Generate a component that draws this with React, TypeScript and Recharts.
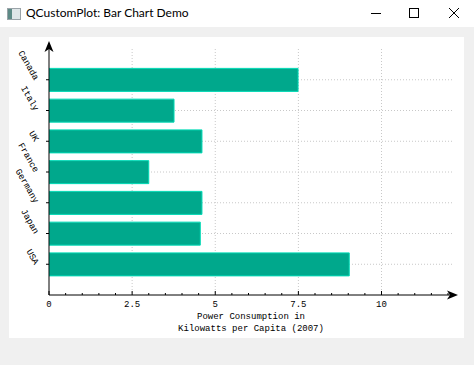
import { BarChart, Bar, XAxis, YAxis, CartesianGrid, ReferenceLine } from 'recharts'

// countries from bottom (1) to top (7)
const countries = ['USA', 'Japan', 'Germany', 'France', 'UK', 'Italy', 'Canada']
const positions = [1, 2, 3, 4, 5, 6, 7]
const consumption = [9.03, 4.55, 4.6, 3.0, 4.6, 3.76, 7.49]
const majorTicks = [0, 2.5, 5, 7.5, 10]
const minorTicks = [0, 0.5, 1, 1.5, 2, 2.5, 3, 3.5, 4, 4.5, 5, 5.5, 6, 6.5, 7, 7.5, 8, 8.5, 9, 9.5, 10, 10.5, 11, 11.5, 12]

const data = positions.map((pos, i) => ({ pos, country: countries[i], value: consumption[i] }))

const FONT = '"Liberation Mono", monospace'
const BAR_FILL = '#00a88c'
const BAR_PEN = '#00dab6'

function XTick({ x, y, payload }: any) {
  const v = payload.value
  const major = majorTicks.includes(v)
  return (
    <g>
      <line x1={x} y1={y} x2={x} y2={y - (major ? 4 : 2)} stroke="#000" />
      {major && (
        <text x={x} y={y + 12} textAnchor="middle" fontSize={9} fontFamily={FONT} fill="#000">
          {v}
        </text>
      )}
    </g>
  )
}

function YTick({ x, y, payload }: any) {
  const idx = positions.indexOf(payload.value)
  const name = idx >= 0 ? countries[idx] : ''
  const ax = x - 13
  return (
    <g>
      <line x1={x - 3} y1={y} x2={x} y2={y} stroke="#000" />
      <text
        x={ax}
        y={y}
        textAnchor="end"
        dominantBaseline="central"
        transform={`rotate(60 ${ax} ${y})`}
        fontSize={9}
        fontFamily={FONT}
        fill="#000"
      >
        {name}
      </text>
    </g>
  )
}

function ArrowAxis(props: any) {
  const { x1, y1, x2, y2 } = props
  const dx = x2 - x1
  const dy = y2 - y1
  const len = Math.hypot(dx, dy) || 1
  const ux = dx / len
  const uy = dy / len
  const px = -uy
  const py = ux
  const L = 11
  const W = 4.5
  const notch = 3
  const bx = x2 - ux * L
  const by = y2 - uy * L
  const nx = x2 - ux * (L - notch)
  const ny = y2 - uy * (L - notch)
  const pts = [
    [x2, y2],
    [bx + px * W, by + py * W],
    [nx, ny],
    [bx - px * W, by - py * W],
  ]
    .map((p) => p.join(','))
    .join(' ')
  return (
    <g>
      <line x1={x1} y1={y1} x2={nx} y2={ny} stroke="#000" strokeWidth={1} />
      <polygon points={pts} fill="#000" stroke="none" />
    </g>
  )
}

function AxisTitle({ viewBox }: any) {
  if (!viewBox) return null
  const cx = viewBox.x + viewBox.width / 2
  const y = viewBox.y + 24
  return (
    <text x={cx} y={y} textAnchor="middle" fontSize={9} fontFamily={FONT} fill="#000">
      <tspan x={cx}>Power Consumption in</tspan>
      <tspan x={cx} dy={12}>Kilowatts per Capita (2007)</tspan>
    </text>
  )
}

function TitleBar() {
  return (
    <div style={{ position: 'absolute', left: 0, top: 0, width: 474, height: 27, background: '#fff' }}>
      <div
        style={{
          position: 'absolute',
          left: 7,
          top: 8,
          width: 12,
          height: 10,
          border: '1px solid #9aa3a8',
          background: 'linear-gradient(90deg, #5d8a86 0 35%, #dfe6e8 35% 100%)',
        }}
      />
      <div
        style={{
          position: 'absolute',
          left: 26,
          top: 5,
          fontFamily: 'Lato, sans-serif',
          fontSize: 12,
          lineHeight: '16px',
          color: '#000',
        }}
      >
        QCustomPlot: Bar Chart Demo
      </div>
      <svg style={{ position: 'absolute', left: 0, top: 0 }} width={474} height={27}>
        <line x1={371} y1={13.5} x2={381} y2={13.5} stroke="#000" />
        <rect x={409.5} y={8.5} width={9} height={9} fill="none" stroke="#000" />
        <line x1={449} y1={8} x2={459} y2={18} stroke="#000" />
        <line x1={459} y1={8} x2={449} y2={18} stroke="#000" />
      </svg>
    </div>
  )
}

export default function App() {
  return (
    <div
      style={{
        position: 'fixed',
        left: 0,
        top: 0,
        width: 474,
        height: 365,
        background: '#f0f0f0',
        overflow: 'hidden',
      }}
    >
      <TitleBar />
      <div style={{ position: 'absolute', left: 9, top: 37, width: 455, height: 301, background: '#fff' }}>
        <BarChart
          width={455}
          height={301}
          data={data}
          layout="vertical"
          margin={{ top: 12, right: 11, bottom: 0, left: 0 }}
        >
          <CartesianGrid
            stroke="#c8c8c8"
            strokeDasharray="1 2"
            verticalValues={[2.5, 5, 7.5, 10]}
            horizontalValues={positions}
          />
          <XAxis
            type="number"
            dataKey="value"
            domain={[0, 12.15]}
            allowDataOverflow
            ticks={minorTicks}
            interval={0}
            tick={<XTick />}
            tickLine={false}
            tickSize={0}
            tickMargin={0}
            axisLine={false}
            height={43}
            label={{ content: <AxisTitle /> }}
          />
          <YAxis
            type="number"
            dataKey="pos"
            domain={[0, 8]}
            reversed
            ticks={positions}
            interval={0}
            tick={<YTick />}
            tickLine={false}
            tickSize={0}
            tickMargin={0}
            axisLine={false}
            width={40}
          />
          <Bar
            dataKey="value"
            barSize={23}
            fill={BAR_FILL}
            stroke={BAR_PEN}
            strokeWidth={1}
            isAnimationActive={false}
          />
          <ReferenceLine
            segment={[{ x: 0, y: 0 }, { x: 12.3, y: 0 }]}
            ifOverflow="visible"
            shape={<ArrowAxis />}
          />
          <ReferenceLine
            segment={[{ x: 0, y: 0 }, { x: 0, y: 8.26 }]}
            ifOverflow="visible"
            shape={<ArrowAxis />}
          />
        </BarChart>
      </div>
    </div>
  )
}
